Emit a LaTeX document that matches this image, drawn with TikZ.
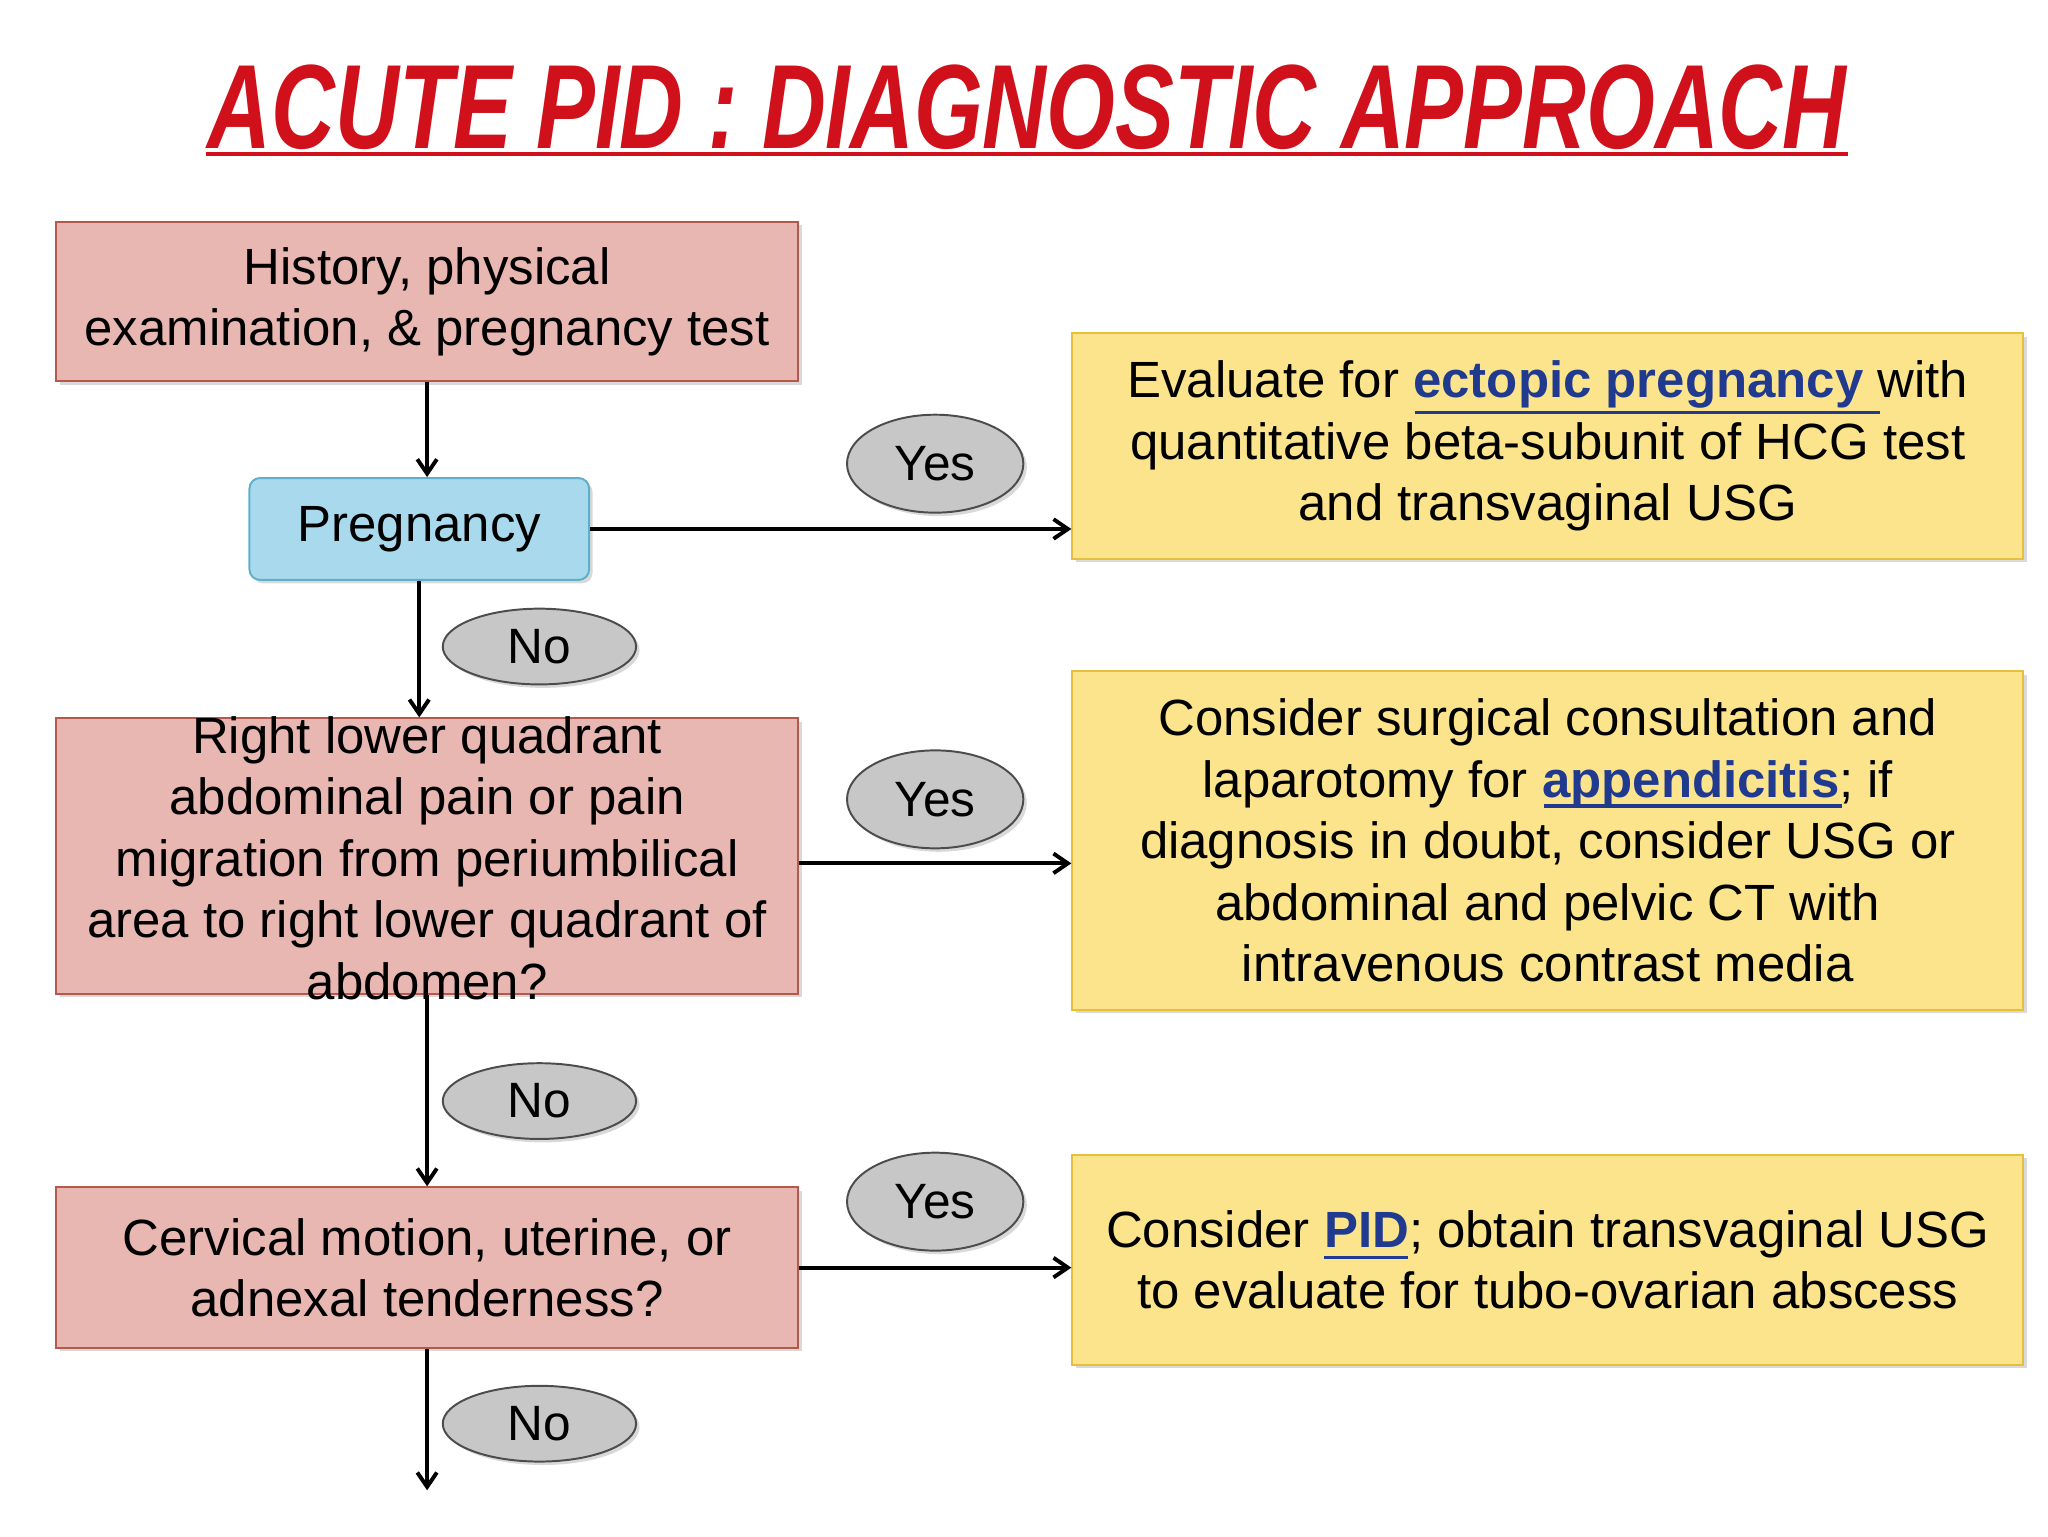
\documentclass[tikz,border=0pt]{standalone}
\usepackage{fontspec}
\setmainfont{Liberation Sans}
\usetikzlibrary{shapes.geometric,shadows,arrows.meta}
\definecolor{rbox}{HTML}{E9B7B2}
\definecolor{rline}{HTML}{B5584E}
\definecolor{bbox}{HTML}{A9D9EC}
\definecolor{bline}{HTML}{5FAFCB}
\definecolor{ybox}{HTML}{FCE48C}
\definecolor{yline}{HTML}{E6BF3C}
\definecolor{lnk}{HTML}{1F3A8F}
\definecolor{ttl}{HTML}{D0101A}
\newcommand{\lk}[1]{\textcolor{lnk}{\textbf{#1}}}
\begin{document}
\begin{tikzpicture}[x=1pt,y=-1pt,
  box/.style={draw=rline,line width=1.5pt,fill=rbox,drop shadow={opacity=0.3}},
  ybx/.style={draw=yline,line width=1.5pt,fill=ybox,drop shadow={opacity=0.3}},
  txt/.style={align=center,font=\fontsize{39}{47}\selectfont},
  oval/.style={ellipse,draw=black!70,line width=1.5pt,fill=black!22,drop shadow={opacity=0.3},font=\fontsize{38}{44}\selectfont,inner sep=0pt},
  arr/.style={-{Straight Barb[length=11pt,width=15pt]},line width=3pt},
  ul/.style={lnk,line width=2.5pt}]
\useasboundingbox (0,0) rectangle (1568,1176);
\node (title) at (787,82) {\resizebox{1255pt}{64pt}{\textcolor{ttl}{\textbf{\textit{ACUTE PID : DIAGNOSTIC APPROACH}}}}};
\draw[ttl,line width=3.5pt] (158,118) -- (1415,118);
% left boxes
\node[box,minimum width=568pt,minimum height=122pt] (b1) at (327,231) {};
\node[txt] at (b1) {History, physical\\examination, \& pregnancy test};
\node[draw=bline,line width=1.5pt,fill=bbox,rounded corners=8pt,minimum width=260pt,minimum height=78pt,drop shadow={opacity=0.3},txt] (preg) at (321,405) {Pregnancy};
\node[box,minimum width=568pt,minimum height=211pt] (b3) at (327,655.5) {};
\node[txt] at (327,657) {Right lower quadrant\\abdominal pain or pain\\migration from periumbilical\\area to right lower quadrant of\\abdomen?};
\node[box,minimum width=568pt,minimum height=123pt] (b4) at (327,970.5) {};
\node[txt] at (b4) {Cervical motion, uterine, or\\adnexal tenderness?};
% right boxes
\node[ybx,minimum width=728pt,minimum height=173pt] (y1) at (1185,341.5) {};
\node[txt] at (y1) {Evaluate for \lk{ectopic pregnancy }with\\quantitative beta-subunit of HCG test\\and transvaginal USG};
\node[ybx,minimum width=728pt,minimum height=259pt] (y2) at (1185,643.5) {};
\node[txt] at (y2) {Consider surgical consultation and\\laparotomy for \lk{appendicitis}; if\\diagnosis in doubt, consider USG or\\abdominal and pelvic CT with\\intravenous contrast media};
\node[ybx,minimum width=728pt,minimum height=161pt] (y3) at (1185,964.5) {};
\node[txt] at (y3) {Consider \lk{PID}; obtain transvaginal USG\\to evaluate for tubo-ovarian abscess};
\draw[ul] (1083,316) -- (1439,316);
\draw[ul] (1182,617) -- (1410,617);
\draw[ul] (1014,963) -- (1078,963);
% ovals
\node[oval,minimum width=135pt,minimum height=75pt] (o1) at (716,355) {Yes};
\node[oval,minimum width=148pt,minimum height=58pt] (o2) at (413,495) {No};
\node[oval,minimum width=135pt,minimum height=75pt] (o3) at (716,612) {Yes};
\node[oval,minimum width=148pt,minimum height=58pt] (o4) at (413,843) {No};
\node[oval,minimum width=135pt,minimum height=75pt] (o5) at (716,920) {Yes};
\node[oval,minimum width=148pt,minimum height=58pt] (o6) at (413,1090) {No};
% arrows
\coordinate (end) at (327,1141);
\draw[arr] (b1.south) -- (preg.north -| b1.south);
\draw[arr] (preg.east) -- (preg.east -| y1.west);
\draw[arr] (preg.south) -- (preg.south |- b3.north);
\draw[arr] (b3.east |- 0,661) -- (y2.west |- 0,661);
\draw[arr] (b3.south) -- (b4.north);
\draw[arr] (b4.east) -- (b4.east -| y3.west);
\draw[arr] (b4.south) -- (end);
\end{tikzpicture}
\end{document}
